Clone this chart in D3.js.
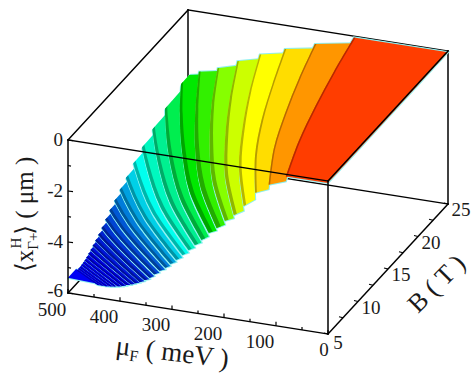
<!DOCTYPE html>
<html lang="en">
  <head>
    <meta charset="utf-8" />
    <title>Hall displacement surface</title>
    <script src="https://d3js.org/d3.v7.min.js"></script>
    <style type="text/css">
      html, body { margin: 0; padding: 0; background: #fff; }
      svg { display: block; }
      text { font-family: "Liberation Serif", "DejaVu Serif", serif; fill: #1a1a1a; }
    </style>
  </head>
  <body>
    <svg id="chart" width="474" height="383"></svg>
    <script type="text/javascript">
      // values
      const muTicks = [500, 400, 300, 200, 100, 0];
      const bTicks = [5, 10, 15, 20, 25];
      const zTicks = [0, -2, -4, -6];
      const bGrid = [5, 10, 15, 20, 25];
      // mu of each step edge at the B values of bGrid, one row per step
      const stepEdges = [
        [0, 0, 0, 0, 0],
        [81, 114, 140, 162, 181], [114, 162, 198, 229, 256], [140, 198, 243, 280, 314],
        [162, 229, 280, 324, 362], [181, 256, 313, 362, 405], [198, 280, 343, 397, 443],
        [214, 303, 371, 428, 479], [229, 324, 396, 458, 512], [243, 343, 421, 486, 543],
        [256, 362, 443, 512, 572], [268, 380, 465, 537, 600], [280, 397, 486, 561, 627],
        [292, 413, 506, 584, 653], [303, 428, 525, 606, 677], [313, 443, 543, 627, 701],
        [324, 458, 561, 648, 724], [334, 472, 578, 667, 746], [343, 486, 595, 687, 768],
        [353, 499, 611, 706, 789], [362, 512, 627, 724, 809], [371, 525, 642, 742, 830],
        [379, 537, 657, 759, 849], [388, 549, 672, 776, 868], [396, 561, 687, 793, 887],
        [405, 572, 701, 810, 905], [412, 584, 714, 825, 923], [420, 595, 728, 841, 941],
        [428, 606, 742, 857, 958], [435, 616, 755, 872, 975], [443, 627, 768, 887, 991],
        [505, 714, 875, 1010, 1130]
      ];
      // height of each step at B=5 and at B=25
      const zFront = [-0.08, -0.51, -0.91, -1.5, -1.92, -2.2, -2.53, -2.77, -3.09, -3.33, -3.57,
        -3.8, -4.03, -4.22, -4.41, -4.56, -4.73, -4.9, -5.02, -5.12, -5.2, -5.27, -5.33, -5.39,
        -5.43, -5.46, -5.48, -5.5, -5.5, -5.5, -5.4];
      const zBack = [-0.05, -0.55, -0.93, -1.3, -1.7, -2.1, -2.35, -2.6, -2.85, -3.1, -3.35,
        -3.6, -3.85, -4.05, -4.25, -4.45, -4.65, -4.8, -4.95, -5.05, -5.15, -5.25, -5.3, -5.35,
        -5.4, -5.4, -5.4, -5.4, -5.4, -5.4, -5.4];
      // colour of the steps, by step number
      const colorSteps = [1, 2, 3, 4, 5, 6, 7, 8, 9, 10, 12, 14, 16, 19, 24, 31];
      const colorValues = ["#ff3c00", "#ff9600", "#ffdd00", "#ffff00", "#ccff00", "#86ff00", "#33f000",
        "#00e800", "#00ee50", "#00f090", "#00ffee", "#00a0e0", "#0058d4", "#0020d0", "#0000e0", "#0000f4"];
      // part of a step taken by its dark side, at the B values of bGrid
      const darkShare = [0.5, 0.38, 0.28, 0.18, 0.09];

      const svg = d3.select("#chart");

      // box is an oblique projection, so each axis just adds a screen offset
      const muX = d3.scaleLinear().domain([500, 0]).range([0, 260]);
      const muY = d3.scaleLinear().domain([500, 0]).range([0, 41]);
      const bX = d3.scaleLinear().domain([5, 25]).range([0, 120]);
      const bY = d3.scaleLinear().domain([5, 25]).range([0, -130]);
      const zY = d3.scaleLinear().domain([-6, 0]).range([293, 140]);
      const project = (mu, b, z) => [68 + muX(mu) + bX(b), zY(z) + muY(mu) + bY(b)];

      const color = d3.scaleLinear().domain(colorSteps).range(colorValues);
      const line = d3.line().curve(d3.curveCatmullRom);

      function polyline(a, b) {
        svg.append("path")
          .attr("d", d3.line()([a, b]))
          .attr("fill", "none")
          .attr("stroke", "#000")
          .attr("stroke-width", 1.5)
          .attr("stroke-linecap", "square");
      }

      // back of the box
      polyline(project(500, 25, 0), project(0, 25, 0));
      polyline(project(500, 5, 0), project(500, 25, 0));
      polyline(project(500, 25, 0), project(500, 25, -6));
      polyline(project(0, 25, 0), project(0, 25, -6));
      polyline(project(500, 25, -6), project(0, 25, -6));
      polyline(project(500, 5, -6), project(500, 25, -6));

      // surface, far steps first
      const defs = svg.append("defs");
      const blur = defs.append("filter").attr("id", "soft");
      blur.append("feGaussianBlur").attr("stdDeviation", 0.45);
      const surface = svg.append("g").attr("filter", "url(#soft)");

      d3.range(zFront.length).reverse().forEach(i => {
        const n = i + 1;
        const zOf = d3.scaleLinear().domain([5, 25]).range([zFront[i], zBack[i]]);
        const zNear = i === 0 ? zOf : d3.scaleLinear().domain([5, 25]).range([zFront[i - 1], zBack[i - 1]]);
        const lo = stepEdges[i], hi = stepEdges[i + 1];
        // t=0 on the low mu side, t=1 on the high mu side; the low side leans up to the next step
        const at = (t, j) => {
          const b = bGrid[j];
          const z = zOf(b) + 0.55 * (zNear(b) - zOf(b)) * (1 - t);
          return project(lo[j] + (hi[j] - lo[j]) * t, b, z);
        };

        const clipId = "clip" + i;
        defs.append("clipPath").attr("id", clipId).append("polygon")
          .attr("points", [project(500, -10, zOf(-10)), project(500, 40, zOf(40)),
            project(-200, 40, zOf(40)), project(-200, -10, zOf(-10))].join(" "));

        const left = bGrid.map((b, j) => at(1, j));
        const right = bGrid.map((b, j) => at(0, j)).reverse();
        const base = color(n);
        const full = line(left) + "L" + line(right).slice(1) + "Z";

        // pale rim, as in the original rendering
        surface.insert("path", ":first-child")
          .attr("d", full)
          .attr("clip-path", "url(#" + clipId + ")")
          .attr("fill", "#8ff0f0")
          .attr("stroke", "#8ff0f0")
          .attr("stroke-width", 2);

        const g = surface.append("g").attr("clip-path", "url(#" + clipId + ")");
        g.append("path").attr("d", full).attr("fill", base);

        // dark side of the step
        if (n <= 30) {
          const scale = Math.min(1, Math.pow((n - 1) / 6, 1.2));
          const inner = bGrid.map((b, j) =>
            at(1 - Math.max(darkShare[j] * scale, 3 / (hi[j] - lo[j])), j));
          g.append("path")
            .attr("d", line(inner) + "L" + line(left.slice().reverse()).slice(1) + "Z")
            .attr("fill", d3.rgb(base).darker(0.95));
        }
      });

      // front of the box
      polyline(project(500, 5, 0), project(0, 5, 0));
      polyline(project(0, 5, 0), project(0, 5, -6));
      polyline(project(500, 5, 0), project(500, 5, -6));
      polyline(project(500, 5, -6), project(0, 5, -6));
      polyline(project(0, 5, -6), project(0, 25, -6));
      polyline(project(0, 5, 0), project(0, 25, 0));

      function tick(a, dx, dy) {
        svg.append("path")
          .attr("d", d3.line()([a, [a[0] + dx, a[1] + dy]]))
          .attr("stroke", "#000")
          .attr("stroke-width", 1.2);
      }

      d3.range(0, 501, 50).forEach(v => tick(project(v, 5, -6), 0, v % 100 ? -3 : -4));
      d3.range(5, 25.1, 2.5).forEach(v => tick(project(0, v, -6), -4, -1));
      d3.range(-6, 0.1, 1).forEach(v => tick(project(500, 5, v), v % 2 ? 3 : 5, 0.6));

      const label = (x, y, t, size, anchor) => svg.append("text")
        .attr("x", x).attr("y", y)
        .attr("font-size", size)
        .attr("text-anchor", anchor || "middle")
        .text(t);

      muTicks.forEach(v => {
        const p = project(v, 5, -6);
        label(p[0] - (v === 0 ? 4 : 16), p[1] + (v === 500 ? 23 : 22), v, 19);
      });
      bTicks.forEach(v => {
        const p = project(0, v, -6);
        label(p[0] + (v === 5 ? 10 : 13), p[1] + (v === 5 ? 15 : 12), v, 19);
      });
      zTicks.forEach(v => {
        const p = project(500, 5, v);
        label(p[0] - 5, p[1] + (v === -6 ? 4 : 6), v, 19, "end");
      });

      // axis titles
      const muTitle = svg.append("text")
        .attr("transform", "translate(115,354) rotate(7)")
        .attr("font-size", 27);
      muTitle.append("tspan").text("\u03BC");
      muTitle.append("tspan").attr("dy", 5).attr("font-size", 16).text("F");
      muTitle.append("tspan").attr("dy", -5).text(" ( meV )");

      const bTitle = svg.append("text")
        .attr("transform", "translate(418,314) rotate(-45)")
        .attr("font-size", 26);
      bTitle.text("B ( T )");

      const zTitle = svg.append("text")
        .attr("transform", "translate(33,272) rotate(-90)")
        .attr("font-size", 25);
      zTitle.append("tspan").text("\u27E8x");
      zTitle.append("tspan").attr("dy", 5).attr("font-size", 15).text("\u0393+");
      zTitle.append("tspan").attr("dy", -17).attr("dx", -16).attr("font-size", 15).text("H");
      zTitle.append("tspan").attr("dy", 12).attr("dx", 3).text("\u27E9 ( \u03BCm )");
    </script>
  </body>
</html>
